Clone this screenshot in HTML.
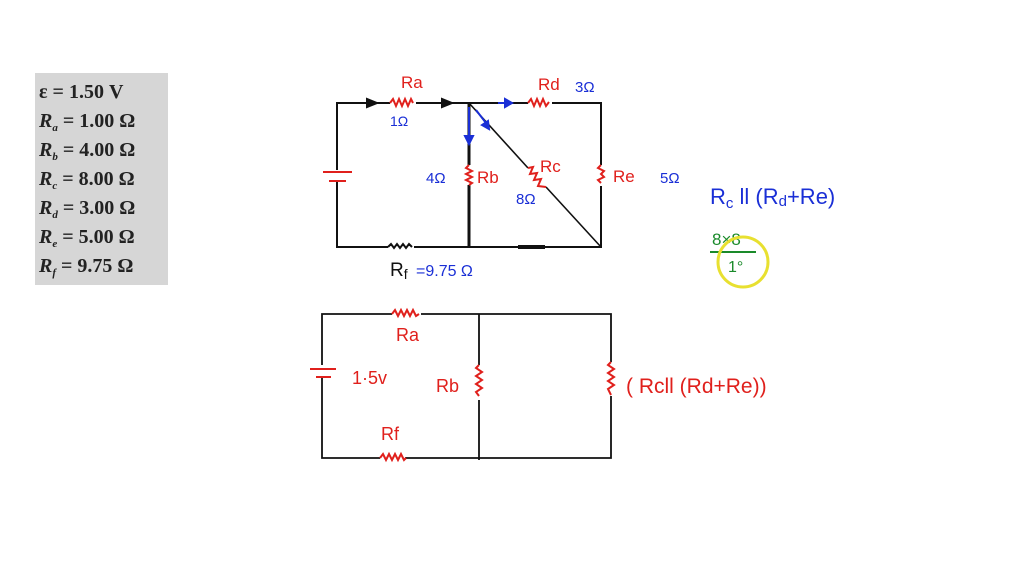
<!DOCTYPE html>
<html><head><meta charset="utf-8"><style>
html,body{margin:0;padding:0;background:#fff;}
svg{display:block;}
.r{fill:#e0201c;font-family:"Liberation Sans",sans-serif;}
.b{fill:#1a2fd6;font-family:"Liberation Sans",sans-serif;}
.k{fill:#111;font-family:"Liberation Sans",sans-serif;}
.m{font-family:"Liberation Serif",serif;font-size:20px;fill:#222;font-weight:bold;}
</style></head><body>
<svg width="1024" height="576" viewBox="0 0 1024 576" xmlns="http://www.w3.org/2000/svg">
<rect width="1024" height="576" fill="#fff"/>
<rect x="35" y="73" width="133" height="212" fill="#d6d6d6"/>
<g class="m">
<text x="39" y="98">ε = 1.50 V</text>
<text x="39" y="127"><tspan font-style="italic">R</tspan><tspan font-size="11" dy="4" font-style="italic">a</tspan><tspan dy="-4"> = 1.00 Ω</tspan></text>
<text x="39" y="156"><tspan font-style="italic">R</tspan><tspan font-size="11" dy="4" font-style="italic">b</tspan><tspan dy="-4"> = 4.00 Ω</tspan></text>
<text x="39" y="185"><tspan font-style="italic">R</tspan><tspan font-size="11" dy="4" font-style="italic">c</tspan><tspan dy="-4"> = 8.00 Ω</tspan></text>
<text x="39" y="214"><tspan font-style="italic">R</tspan><tspan font-size="11" dy="4" font-style="italic">d</tspan><tspan dy="-4"> = 3.00 Ω</tspan></text>
<text x="39" y="243"><tspan font-style="italic">R</tspan><tspan font-size="11" dy="4" font-style="italic">e</tspan><tspan dy="-4"> = 5.00 Ω</tspan></text>
<text x="39" y="272"><tspan font-style="italic">R</tspan><tspan font-size="11" dy="4" font-style="italic">f</tspan><tspan dy="-4"> = 9.75 Ω</tspan></text>
</g>
<g stroke="#111" stroke-width="2" fill="none">
<path d="M337 170 V103 H390 M416 103 H528 M552 103 H601 V165 M601 186 V247 H469 M337 180 V247 H388 M414 247 H469"/>
<path d="M469 103 V165 M469 185 V247" stroke-width="3"/>
<path d="M469 103 L528 168 M546 187 L601 247" stroke-width="1.6"/>
<path d="M518 247 H545" stroke-width="4"/>
<path d="M388 247 l3 -3 l3 4 l3 -4 l3 4 l3 -4 l3 4 l3 -4 l3 3"/>
<path d="M377 103 l-10 -4 v8 z M452 103 l-10 -4 v8 z" fill="#111"/>
</g>
<g stroke="#e0201c" stroke-width="2" fill="none">
<path d="M390 103 l3 -4 l3 7 l3 -7 l3 7 l3 -7 l3 7 l3 -7 l2 4"/>
<path d="M528 103 l3 -4 l3 7 l3 -7 l3 7 l3 -7 l3 7 l3 -4"/>
<path d="M469 165 l-3 3 l6 3 l-6 3 l6 3 l-6 3 l6 3 l-3 2"/>
<path d="M601 165 l-3 3 l6 3 l-3 3 l3 3 l-6 3 l3 3"/>
<path d="M528 168 L533 167 L530 174 L537 173 L534 180 L541 179 L538 186 L546 187"/>
<path d="M323 172 H352 M329 181 H346"/>
</g>
<g stroke="#1a2fd6" stroke-width="2" fill="#1a2fd6">
<path d="M469 107 V138" fill="none"/><path d="M465 136 l4 8 l4 -8 z"/>
<path d="M476 110 L486 123" fill="none"/><path d="M482 125 l7 4 l-1 -8 z"/>
<path d="M498 103 H506" fill="none"/><path d="M505 99 l7 4 l-7 4 z"/>
</g>
<g font-size="17">
<text class="r" x="401" y="88">Ra</text>
<text class="b" x="390" y="126" font-size="14">1Ω</text>
<text class="r" x="538" y="90">Rd</text>
<text class="b" x="575" y="92" font-size="15">3Ω</text>
<text class="b" x="426" y="183" font-size="15">4Ω</text>
<text class="r" x="477" y="183">Rb</text>
<text class="r" x="540" y="172">Rc</text>
<text class="b" x="516" y="204" font-size="15">8Ω</text>
<text class="r" x="613" y="182">Re</text>
<text class="b" x="660" y="183" font-size="15">5Ω</text>
<text class="k" x="390" y="276" font-size="19">R<tspan font-size="14" dy="3">f</tspan></text>
<text class="b" x="416" y="276" font-size="16">=9.75 Ω</text>
</g>
<text class="b" x="710" y="204" font-size="22">R<tspan font-size="15" dy="4">c</tspan><tspan dy="-4"> ll (R</tspan><tspan font-size="15" dy="2">d</tspan><tspan dy="-2">+Re)</tspan></text>
<text x="712" y="245" font-size="17" fill="#1a8a2a" font-family="Liberation Sans,sans-serif">8×8</text>
<path d="M710 252 H756" stroke="#1a8a2a" stroke-width="2"/>
<text x="728" y="272" font-size="16" fill="#1a8a2a" font-family="Liberation Sans,sans-serif">1°</text>
<circle cx="743" cy="262" r="25" fill="none" stroke="#e8e030" stroke-width="3"/>
<g stroke="#111" stroke-width="1.8" fill="none">
<path d="M322 365 V314 H392 M421 314 H611 V362 M611 396 V458 H405 M380 458 H322 V378"/>
<path d="M479 314 V365 M479 400 V460"/>
</g>
<g stroke="#e0201c" stroke-width="2" fill="none">
<path d="M392 314 l3 -4 l3 6 l3 -6 l3 6 l3 -6 l3 6 l3 -6 l3 6 l3 -2"/>
<path d="M380 458 l3 -4 l3 6 l3 -6 l3 6 l3 -6 l3 6 l3 -6 l3 6 l2 -2"/>
<path d="M479 365 l-3 3 l6 4 l-6 4 l6 4 l-6 4 l6 4 l-6 4 l3 4"/>
<path d="M611 362 l-3 3 l6 4 l-6 4 l6 4 l-6 4 l6 4 l-6 4 l3 6"/>
<path d="M310 369 H336 M316 377 H331"/>
</g>
<g class="r" font-size="18">
<text x="396" y="341">Ra</text>
<text x="352" y="384">1·5v</text>
<text x="436" y="392">Rb</text>
<text x="381" y="440">Rf</text>
<text x="626" y="393" font-size="21">( Rcll (Rd+Re))</text>
</g>
</svg>
</body></html>
